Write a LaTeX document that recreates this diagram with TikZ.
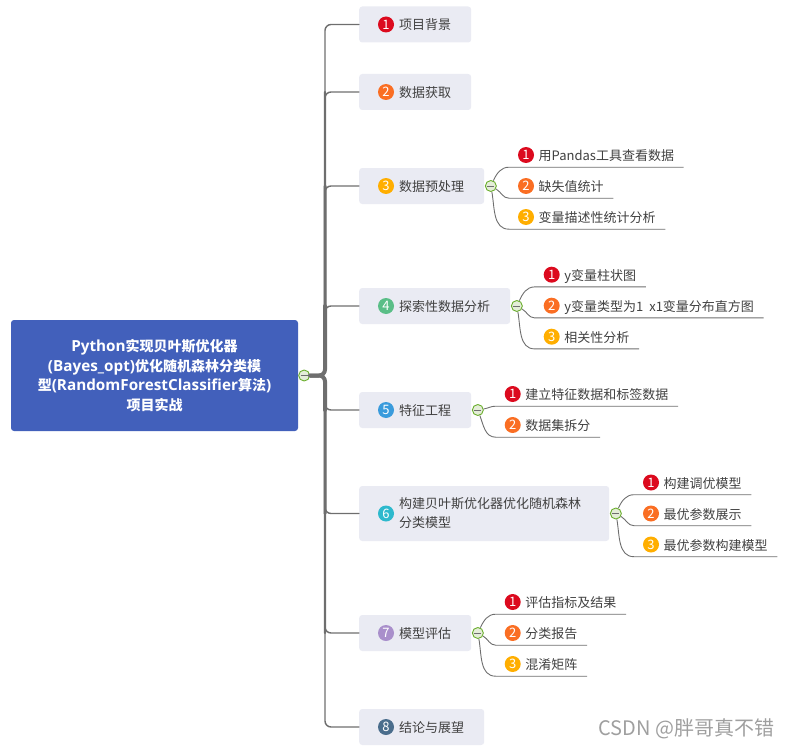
\documentclass[tikz,border=0pt]{standalone}
\usepackage{fontspec}
\setmainfont{Noto Sans CJK SC}
\newfontfamily\latinbold[Scale=1.09]{Open Sans}
\usetikzlibrary{positioning, calc}

\definecolor{numred}{HTML}{DC0A1E}
\definecolor{numorange}{HTML}{FA6E23}
\definecolor{numyellow}{HTML}{FFAE00}
\definecolor{numgreen}{HTML}{5ABE87}
\definecolor{numblue}{HTML}{3A9BDC}
\definecolor{numcyan}{HTML}{2DB9CD}
\definecolor{numpurple}{HTML}{A98FCB}
\definecolor{numslate}{HTML}{4A6D8C}
\definecolor{rootblue}{HTML}{4260BB}
\definecolor{boxgray}{HTML}{EAEBF3}
\definecolor{inkgray}{HTML}{404040}
\definecolor{linegray}{HTML}{6E6E6E}
\definecolor{foldgreen}{HTML}{6AAE2C}
\definecolor{foldfill}{HTML}{E4EDD8}
\newcommand{\pad}{\hspace*{20pt}}

\begin{document}
\begin{tikzpicture}[x=1pt, y=-1pt, node distance=31pt,
  root/.style={rectangle, fill=rootblue, rounded corners=3pt, text=white, minimum width=287pt, minimum height=111pt, align=center, font=\fontsize{14}{19.5}\selectfont\bfseries},
  topic/.style={rectangle, fill=boxgray, rounded corners=3pt, anchor=west, minimum height=36pt, inner xsep=20pt, inner ysep=0pt, text=inkgray, align=left, font=\fontsize{13}{19}\selectfont},
  topicline/.style={topic, text height=11pt, text depth=0pt},
  badge/.style={circle, minimum size=16pt, inner sep=0pt, text=white, font=\fontsize{13}{13}\selectfont},
  leaf/.style={rectangle, minimum height=24pt, inner xsep=9.5pt, inner ysep=0pt, text height=11pt, text depth=0pt, text=inkgray, font=\fontsize{13}{19}\selectfont},
  fold/.style={circle, draw=foldgreen, fill=foldfill, line width=0.9pt, minimum size=11pt, inner sep=0pt, path picture={\draw[linegray, line width=1pt] ([xshift=2pt]path picture bounding box.west) -- ([xshift=-2pt]path picture bounding box.east);}},
  limb/.style={draw=linegray, rounded corners=6pt, line cap=round},
  branch/.style={limb, line width=1.4pt},
  twig/.style={draw=linegray, line width=0.9pt}]

  \useasboundingbox (0,0) rectangle (787,749);

  % centre and first level
  \node[root] (root) at (154.5,375.5) {{\latinbold Python}实现贝叶斯优化器\\{\latinbold (Bayes\_opt)}优化随机森林分类模\\型{\latinbold (RandomForestClassifier}算法{\latinbold )}\\项目实战};
  \node[fold, right=0pt of root] (c0) {};
  \coordinate (hub) at (325,375);

  \node[topicline] (b1) at (359,24.5) {\pad 项目背景};
  \node[topicline] (b2) at (359,92) {\pad 数据获取};
  \node[topicline] (b3) at (359,186) {\pad 数据预处理};
  \node[topicline] (b4) at (359,306) {\pad 探索性数据分析};
  \node[topicline] (b5) at (359,410) {\pad 特征工程};
  \node[topic, text width=210pt, minimum height=55pt] (b6) at (359,513.5) {\pad 构建贝叶斯优化器优化随机森林\\\pad 分类模型};
  \node[topicline] (b7) at (359,633) {\pad 模型评估};
  \node[topicline] (b8) at (359,727) {\pad 结论与展望};

  \node[badge, fill=numred] (n1) at (386,24.5) {1};
  \node[badge, fill=numorange] (n2) at (386,92) {2};
  \node[badge, fill=numyellow] (n3) at (386,186) {3};
  \node[badge, fill=numgreen] (n4) at (386,306) {4};
  \node[badge, fill=numblue] (n5) at (386,410) {5};
  \node[badge, fill=numcyan] (n6) at (386,513.5) {6};
  \node[badge, fill=numpurple] (n7) at (386,633) {7};
  \node[badge, fill=numslate] (n8) at (386,727) {8};

  \node[fold, right=0.5pt of b3] (c3) {};
  \node[fold, right=0.5pt of b4] (c4) {};
  \node[fold, right=0.5pt of b5] (c5) {};
  \node[fold, right=0.5pt of b6] (c6) {};
  \node[fold, right=0.5pt of b7] (c7) {};

  % trunk, thinner the further out
  \draw[branch] (c0) -| (hub |- b1.west) -- (b1.west);
  \draw[branch] (c0) -| (hub |- b2.west) -- (b2.west);
  \draw[branch] (c0) -| (hub |- b3.west) -- (b3.west);
  \draw[branch] (c0) -| (hub |- b4.west) -- (b4.west);
  \draw[branch] (c0) -| (hub |- b5.west) -- (b5.west);
  \draw[branch] (c0) -| (hub |- b6.west) -- (b6.west);
  \draw[branch] (c0) -| (hub |- b7.west) -- (b7.west);
  \draw[branch] (c0) -| (hub |- b8.west) -- (b8.west);
  \draw[limb, line width=2.4pt] (c0) -| (hub |- b2.west);
  \draw[limb, line width=2.4pt] (c0) -| (hub |- b7.west);
  \draw[limb, line width=3pt] (c0) -| (hub |- b3.west);
  \draw[limb, line width=3pt] (c0) -| (hub |- b6.west);
  \draw[limb, line width=4pt] (c0) -| (hub |- b4.west);
  \draw[limb, line width=4pt] (c0) -| (hub |- b5.west);

  % second level
  \node[badge, fill=numred] (n31) at (526,155) {1};
  \node[badge, fill=numorange, below of=n31] (n32) {2};
  \node[badge, fill=numyellow, below of=n32] (n33) {3};
  \node[leaf, right=-5.2pt of n31] (t31) {用Pandas工具查看数据};
  \node[leaf, right=-5.2pt of n32] (t32) {缺失值统计};
  \node[leaf, right=-5.2pt of n33] (t33) {变量描述性统计分析};

  \node[badge, fill=numred] (n41) at (551.7,274.7) {1};
  \node[badge, fill=numorange, below of=n41] (n42) {2};
  \node[badge, fill=numyellow, below of=n42] (n43) {3};
  \node[leaf, right=-5.2pt of n41] (t41) {y变量柱状图};
  \node[leaf, right=-5.2pt of n42] (t42) {y变量类型为1\hspace{3pt} x1变量分布直方图};
  \node[leaf, right=-5.2pt of n43] (t43) {相关性分析};

  \node[badge, fill=numred] (n51) at (512.7,394) {1};
  \node[badge, fill=numorange, below of=n51] (n52) {2};
  \node[leaf, right=-5.2pt of n51] (t51) {建立特征数据和标签数据};
  \node[leaf, right=-5.2pt of n52] (t52) {数据集拆分};

  \node[badge, fill=numred] (n61) at (651,482.5) {1};
  \node[badge, fill=numorange, below of=n61] (n62) {2};
  \node[badge, fill=numyellow, below of=n62] (n63) {3};
  \node[leaf, right=-5.2pt of n61] (t61) {构建调优模型};
  \node[leaf, right=-5.2pt of n62] (t62) {最优参数展示};
  \node[leaf, right=-5.2pt of n63] (t63) {最优参数构建模型};

  \node[badge, fill=numred] (n71) at (512.7,602) {1};
  \node[badge, fill=numorange, below of=n71] (n72) {2};
  \node[badge, fill=numyellow, below of=n72] (n73) {3};
  \node[leaf, right=-5.2pt of n71] (t71) {评估指标及结果};
  \node[leaf, right=-5.2pt of n72] (t72) {分类报告};
  \node[leaf, right=-5.2pt of n73] (t73) {混淆矩阵};

  \draw[twig] (c3) to[out=65, in=180] ($(t31.south west)+(-20,0)$) -- (t31.south east);
  \draw[twig] (c3) to[out=-30, in=180] ($(t32.south west)+(-20,0)$) -- (t32.south east);
  \draw[twig] (c3) to[out=-80, in=180] ($(t33.south west)+(-20,0)$) -- (t33.south east);
  \draw[twig] (c4) to[out=65, in=180] ($(t41.south west)+(-20,0)$) -- (t41.south east);
  \draw[twig] (c4) to[out=-30, in=180] ($(t42.south west)+(-20,0)$) -- (t42.south east);
  \draw[twig] (c4) to[out=-80, in=180] ($(t43.south west)+(-20,0)$) -- (t43.south east);
  \draw[twig] (c5) to[out=10, in=180] ($(t51.south west)+(-20,0)$) -- (t51.south east);
  \draw[twig] (c5) to[out=-70, in=180] ($(t52.south west)+(-20,0)$) -- (t52.south east);
  \draw[twig] (c6) to[out=65, in=180] ($(t61.south west)+(-20,0)$) -- (t61.south east);
  \draw[twig] (c6) to[out=-30, in=180] ($(t62.south west)+(-20,0)$) -- (t62.south east);
  \draw[twig] (c6) to[out=-80, in=180] ($(t63.south west)+(-20,0)$) -- (t63.south east);
  \draw[twig] (c7) to[out=65, in=180] ($(t71.south west)+(-20,0)$) -- (t71.south east);
  \draw[twig] (c7) to[out=-30, in=180] ($(t72.south west)+(-20,0)$) -- (t72.south east);
  \draw[twig] (c7) to[out=-80, in=180] ($(t73.south west)+(-20,0)$) -- (t73.south east);

  \node[text=gray!75, font=\fontsize{20}{22}\selectfont] (mark) at (686.5,729) {CSDN @胖哥真不错};
\end{tikzpicture}
\end{document}
